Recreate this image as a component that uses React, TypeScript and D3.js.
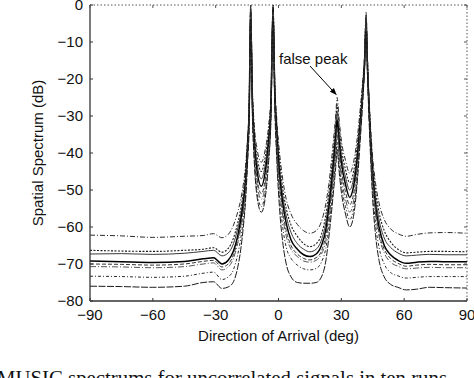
import React from "react";
import * as d3 from "d3";

const angles = [
  -90, -75, -60, -45, -36, -31, -27, -24, -21.5, -19.5, -18, -16.8, -15.8, -14.8, -14, -13.3,
  -12.5, -11.5, -10.2, -8.2, -6.3, -4.8, -3.6, -2.6, -1.8, -0.8, 0.5, 2, 3.7, 6, 9, 12, 15, 18,
  20.5, 22.5, 24, 25.3, 26.5, 27.3, 28, 28.8, 30, 32, 34, 36, 37.8, 39.2, 40.3, 41.1, 41.8, 42.6,
  43.5, 44.8, 46.3, 48, 50.5, 53.5, 57, 61, 66, 72, 80, 90,
];

const run1 = [
  -62.2, -62.4, -62.8, -62.5, -62.3, -61.8, -62.9, -62, -59.5, -56, -52.5, -48.5, -44, -36, -26, 0,
  -22, -33, -39, -42.5, -39, -33, -24, 0, -20, -31, -40, -47, -52.5, -56.5, -59.3, -61, -61.7, -61,
  -58.5, -54, -48.5, -42, -35, -30, -25, -30, -36.5, -42, -45.5, -42, -35, -27, -20, -13, -2, -16,
  -28, -40, -48, -53.5, -58, -60.5, -61.8, -62.5, -62, -61.6, -61.5, -61.7,
];
const run2 = [
  -66.3, -66.5, -66.6, -66.3, -66, -65.6, -66.8, -65.8, -63, -59, -55, -50.5, -45.5, -37, -27, -1,
  -23, -34.5, -41, -45, -41, -34.5, -25, 0, -21, -32.5, -42, -49.5, -55, -59.5, -62.5, -64.5, -65.3, -64.5,
  -62, -57, -51, -44.5, -37.5, -32, -27, -32, -38.5, -44.5, -48, -44.5, -37, -28.5, -21, -14, -3, -17,
  -29, -41.5, -50, -56, -61, -64, -66, -67, -66.8, -66.6, -66.6, -66.7,
];
const run3 = [
  -67.3, -67.2, -67.4, -67.1, -66.6, -66.3, -67.8, -67, -64.5, -60.5, -56.5, -52, -47, -38, -27.5, 0,
  -24, -36, -43, -47, -43, -36, -26, -1, -22, -34, -44, -51.5, -57, -61.5, -64.5, -66, -66.7, -66,
  -63.5, -59, -53, -46.5, -39.5, -34, -29, -34, -40.5, -46.5, -50, -46.5, -39, -30, -22, -15, -4, -18,
  -30, -43, -52, -58, -63, -65.5, -67, -67.8, -67.6, -67.4, -67.5, -67.5,
];
const run4 = [
  -69.2, -69.4, -69.6, -69.3, -68.6, -68.3, -70, -69, -66.5, -62.5, -58, -53.5, -48.5, -39, -28.5, -2,
  -25, -37.5, -45, -49, -45, -37.5, -27, -1, -23, -35.5, -46, -53.5, -59, -63.5, -66, -67.5, -68, -67.3,
  -65, -61, -55, -48.5, -41.5, -36, -31, -36, -42.5, -48.5, -52, -48.5, -40.5, -31, -23, -16, -5, -19,
  -31, -44.5, -54, -60, -65, -67.5, -69, -69.8, -69.5, -69.3, -69.4, -69.4,
];
const run5 = [
  -70, -70.1, -70.3, -70, -69.3, -69, -70.8, -70, -67.5, -63.5, -59.5, -55, -50, -40, -29, -1,
  -26, -39, -47, -51, -47, -39, -28, -2, -24, -37, -48, -55.5, -61, -65, -67.3, -68.5, -68.9, -68.3,
  -66.5, -62.5, -57, -50.5, -43.5, -38, -33, -38, -44.5, -50.5, -54, -50.5, -42, -32, -23, -15, -3, -18,
  -31, -45.5, -55, -61.5, -66, -68.5, -69.8, -70.6, -70.3, -70.1, -70.2, -70.2,
];
const run6 = [
  -70.7, -70.8, -71, -70.7, -70, -69.7, -71.6, -70.8, -68.5, -64.5, -60.5, -56, -51, -41, -30, -3,
  -27, -40, -48.5, -52.5, -48.5, -40, -29, -2, -25, -38, -49.5, -57, -62.5, -66, -68, -69.2, -69.5, -69,
  -67.3, -64, -58.5, -52, -45, -40, -35, -40, -46.5, -52.5, -56, -52.5, -43.5, -33, -24, -17, -6, -20,
  -33, -47, -56.5, -62.5, -67, -69.5, -70.6, -71.3, -71.1, -70.9, -71, -71,
];
const run7 = [
  -73.3, -73.4, -73.6, -73.3, -72.5, -72.2, -74.2, -73.5, -71.5, -67.5, -63, -58, -52.5, -42, -31, -2,
  -28, -42, -50.5, -54.5, -50.5, -42, -30, -3, -26, -40, -52, -60, -65.5, -68.5, -70.3, -71.3, -71.6, -71.2,
  -69.5, -66, -60.5, -54, -47, -42, -37, -42, -48.5, -54.5, -58, -54.5, -45, -34, -24.5, -16, -4, -19,
  -33, -48.5, -59, -65.5, -70, -72.3, -73.2, -73.8, -73.6, -73.4, -73.4, -73.4,
];
const run8 = [
  -76, -76.1, -76.3, -76, -75, -74.8, -76.6, -76.2, -74.8, -71, -66, -60, -53.5, -43, -32, -4,
  -29, -43, -52, -56, -52, -43, -31, -3, -27, -42, -55, -64, -70, -73.5, -75, -75.2, -75.2, -75,
  -73.5, -69.5, -63, -56, -49, -44, -39, -44, -50.5, -56.5, -60, -56.5, -46.5, -35, -25.5, -17, -7, -21,
  -35, -51, -62, -69, -73.5, -75.5, -76.3, -77, -76.8, -76.3, -76.4, -76.5,
];

const runs = [run1, run2, run3, run4, run5, run6, run7, run8];

const xTicks = [-90, -60, -30, 0, 30, 60, 90];
const yTicks = [0, -10, -20, -30, -40, -50, -60, -70, -80];

const runStyles = [
  { color: "#2a2a2a", dash: "5,2,1,2", width: 1 },
  { color: "#1a1a1a", dash: "2,1.5", width: 1.1 },
  { color: "#3a3a3a", dash: "", width: 1 },
  { color: "#000000", dash: "", width: 1.5 },
  { color: "#333333", dash: "4,2", width: 1 },
  { color: "#555555", dash: "6,2,1,2", width: 1 },
  { color: "#2a2a2a", dash: "3,2,1,2", width: 1 },
  { color: "#1a1a1a", dash: "7,1.5", width: 1 },
];

const fontSans = "'Liberation Sans', Arial, Helvetica, sans-serif";

export default function App() {
  const W = 474;
  const H = 378;
  const left = 90;
  const right = 467;
  const top = 5;
  const bottom = 301;

  const x = d3.scaleLinear().domain([-90, 90]).range([left, right]);
  const y = d3.scaleLinear().domain([-80, 0]).range([bottom, top]);

  const line = d3
    .line<number>()
    .x((_, i) => x(angles[i]))
    .y((v) => y(v))
    .curve(d3.curveMonotoneX);

  const peakX = x(28);
  const peakY = y(run1[angles.indexOf(28)]);

  return (
    <svg
      width={W}
      height={H}
      style={{ position: "absolute", left: 0, top: 0, background: "#fff" }}
      fontFamily={fontSans}
    >
      <defs>
        <clipPath id="plotClip">
          <rect x={left} y={top} width={right - left} height={bottom - top} />
        </clipPath>
        <marker id="arrowHead" viewBox="0 0 10 10" refX="9" refY="5" markerWidth="7" markerHeight="7" orient="auto">
          <path d="M0,1 L10,5 L0,9 z" fill="#000" />
        </marker>
      </defs>

      {/* frame: top and right dotted */}
      <line x1={left} x2={right} y1={top} y2={top} stroke="#555" strokeWidth={1} strokeDasharray="1.5,2" />
      <line x1={right} x2={right} y1={top} y2={bottom} stroke="#555" strokeWidth={1} strokeDasharray="1.5,2" />

      <g clipPath="url(#plotClip)">
        {runs.map((r, i) => (
          <path
            key={i}
            d={line(r) || ""}
            fill="none"
            stroke={runStyles[i].color}
            strokeWidth={runStyles[i].width}
            strokeDasharray={runStyles[i].dash}
          />
        ))}
      </g>

      {/* left and bottom axes */}
      <line x1={left} x2={left} y1={top} y2={bottom} stroke="#333" strokeWidth={1.3} />
      <line x1={left} x2={right} y1={bottom} y2={bottom} stroke="#333" strokeWidth={1.3} />

      {yTicks.map((t) => (
        <g key={"y" + t}>
          <line x1={left} x2={left + 3} y1={y(t)} y2={y(t)} stroke="#333" />
          <line x1={right - 3} x2={right} y1={y(t)} y2={y(t)} stroke="#555" />
          <text x={left - 7} y={y(t)} dy="0.36em" textAnchor="end" fontSize={15} fill="#111">
            {t < 0 ? "\u2212" + Math.abs(t) : String(t)}
          </text>
        </g>
      ))}
      {xTicks.map((t) => (
        <g key={"x" + t}>
          <line x1={x(t)} x2={x(t)} y1={bottom} y2={bottom - 3} stroke="#333" />
          <line x1={x(t)} x2={x(t)} y1={top} y2={top + 3} stroke="#555" />
          <text x={x(t)} y={320} textAnchor="middle" fontSize={15} fill="#111">
            {t < 0 ? "\u2212" + Math.abs(t) : String(t)}
          </text>
        </g>
      ))}

      <text x={(left + right) / 2} y={341} textAnchor="middle" fontSize={15} fill="#111">
        Direction of Arrival (deg)
      </text>
      <text
        transform={`translate(43, ${(top + bottom) / 2}) rotate(-90)`}
        textAnchor="middle"
        fontSize={15}
        fill="#111"
      >
        Spatial Spectrum (dB)
      </text>

      {/* annotation */}
      <text x={279} y={64} fontSize={15} fill="#111">
        false peak
      </text>
      <line
        x1={310}
        y1={66}
        x2={peakX - 1}
        y2={peakY - 3}
        stroke="#000"
        strokeWidth={1}
        markerEnd="url(#arrowHead)"
      />

      {/* caption (cut off at bottom) */}
      <text
        x={-3}
        y={385}
        fontSize={21}
        textLength={450}
        lengthAdjust="spacingAndGlyphs"
        fontFamily="'Liberation Serif', 'Times New Roman', serif"
        fill="#111"
      >
        MUSIC spectrums for uncorrelated signals in ten runs
      </text>
    </svg>
  );
}
